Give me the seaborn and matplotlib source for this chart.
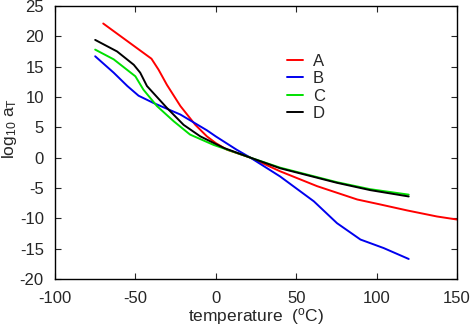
import matplotlib
matplotlib.use("Agg")
import matplotlib.pyplot as plt
import seaborn as sns
import pandas as pd

# Data
temp_A = [-70, -40, -35.6, -30.4, -22, -12.7, -5.5, 0, 7, 21.5, 40, 63, 88, 102, 119, 137.6, 150]
logaT_A = [22.1, 16.3, 14.5, 12.0, 8.5, 5.4, 3.5, 2.4, 1.3, 0.0, -2.25, -4.7, -6.9, -7.7, -8.7, -9.7, -10.2]

temp_B = [-75, -63.5, -55, -48, -38.7, -22, -5.5, 0, 13, 21.5, 40, 61, 75.4, 90, 104.4, 120]
logaT_B = [16.7, 14.0, 11.8, 10.2, 9.0, 7.1, 4.5, 3.5, 1.3, 0.0, -3.1, -7.2, -10.8, -13.5, -14.9, -16.7]

temp_C = [-75, -63.5, -50, -45, -36.6, -26.2, -16, -1.4, 21.5, 40, 75.4, 96, 120]
logaT_C = [17.8, 16.2, 13.4, 11.2, 8.5, 6.0, 3.8, 2.1, 0.0, -1.65, -4.05, -5.2, -6.1]

temp_D = [-75, -61.4, -51, -47, -42.8, -30.4, -20, -9.6, 5, 21.5, 40, 75.4, 96, 120]
logaT_D = [19.4, 17.5, 15.3, 14.0, 11.8, 8.2, 5.4, 3.5, 1.6, 0.0, -1.75, -4.15, -5.35, -6.4]

series = ["A", "B", "C", "D"]
colors = ["#ff0000", "#0000ee", "#00e000", "#000000"]

frames = []
for name, t, v in zip(series, [temp_A, temp_B, temp_C, temp_D],
                      [logaT_A, logaT_B, logaT_C, logaT_D]):
    frames.append(pd.DataFrame({"temperature": t, "logaT": v, "series": name}))
df = pd.concat(frames, ignore_index=True)

sns.set_style("ticks")
plt.rcParams["font.family"] = ["Liberation Sans", "DejaVu Sans"]
plt.rcParams["mathtext.fontset"] = "custom"
plt.rcParams["mathtext.rm"] = "Liberation Sans"
plt.rcParams["mathtext.it"] = "Liberation Sans"
plt.rcParams["axes.unicode_minus"] = False

fig = plt.figure(figsize=(4.74, 3.29), dpi=100)
ax = fig.add_axes([0.116, 0.152, 0.848, 0.830])

sns.lineplot(data=df, x="temperature", y="logaT", hue="series",
             palette=dict(zip(series, colors)), sort=False,
             linewidth=1.4, ax=ax, estimator=None)

ax.set_xlim(-100, 150)
ax.set_ylim(-20, 25)
ax.set_xticks([-100, -50, 0, 50, 100, 150])
ax.set_yticks([-20, -15, -10, -5, 0, 5, 10, 15, 20, 25])
ax.tick_params(direction="in", length=4, width=0.8, labelsize=12,
               top=True, right=True)
ax.tick_params(axis="x", pad=9)
ax.tick_params(axis="y", pad=8)
for s in ax.spines.values():
    s.set_linewidth(1.0)
    s.set_color("black")

ax.set_xlabel("temperature  ($\\mathrm{^{o}}$C)", fontsize=12.5)
ax.xaxis.set_label_coords(0.5, -0.10)
ax.set_ylabel("log$_{\\mathrm{10}}$ a$_{\\mathrm{T}}$", fontsize=12.5)
ax.yaxis.set_label_coords(-0.09, 0.55)

leg = ax.legend(frameon=False, fontsize=12, loc="upper left",
                bbox_to_anchor=(0.54, 0.88), handlelength=0.95,
                handletextpad=0.6, labelspacing=0.15, title=None)

fig.savefig("out.png", dpi=100)
